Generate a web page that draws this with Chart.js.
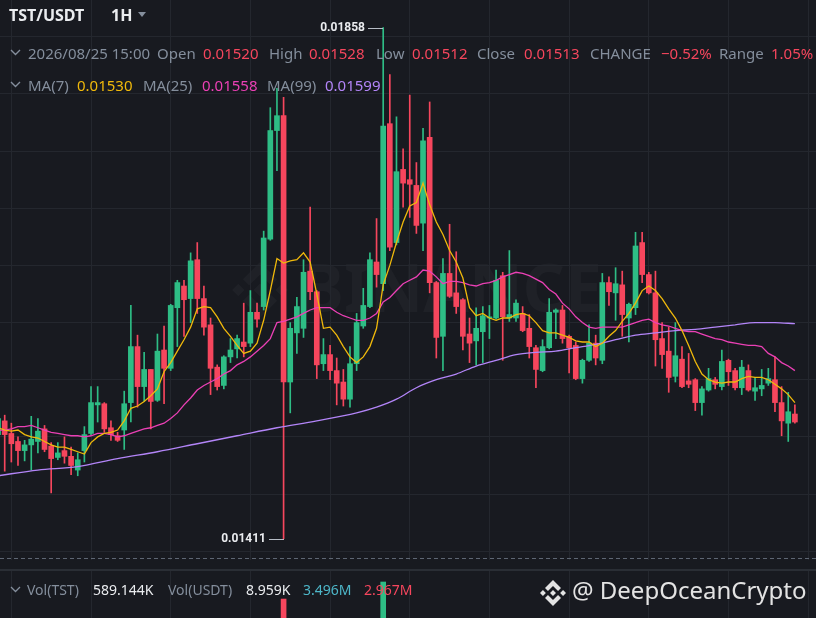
<!DOCTYPE html>
<html>
<head>
<meta charset="utf-8">
<script src="https://cdn.jsdelivr.net/npm/chart.js@4.4.1/dist/chart.umd.min.js"></script>
<style>
  html, body { margin: 0; padding: 0; background: #181a20; overflow: hidden; }
  #wrap { position: relative; width: 816px; height: 618px; overflow: hidden; font-family: "Noto Sans", sans-serif; }
  canvas { position: absolute; left: 0; }
  #main { top: 0; }
  #vol { top: 571px; }
  .t { position: absolute; white-space: nowrap; font-size: 15px; line-height: 20px; color: #848e9c; }
  .v { color: #f6465d; }
  .s { font-size: 14px; line-height: 18px; }
  .w { color: #eaecef; }
  .chev { position: absolute; }
  #sep { position: absolute; left: 0; top: 569px; width: 816px; height: 2px; background: #2a2e35; }
  #wm { position: absolute; left: 300px; top: 253px; font-size: 66px; line-height: 66px; font-weight: 700; color: rgba(255,255,255,0.03); }
  #wmlogo { position: absolute; left: 232px; top: 262px; width: 56px; height: 56px; fill: rgba(255,255,255,0.03); }
</style>
</head>
<body>
<div id="wrap">
  <div id="wm">BINANCE</div>
  <svg id="wmlogo" viewBox="0 0 126.61 126.61"><path d="M38.73 53.2l24.59-24.58 24.6 24.6 14.3-14.31L63.32 0 24.420 38.9l14.31 14.3zM0 63.31l14.3-14.31 14.31 14.31-14.31 14.3zM38.73 73.41l24.59 24.59 24.6-24.6 14.31 14.29-38.9 38.91-38.91-38.88-.02-.02 14.33-14.29zM98 63.31l14.3-14.31 14.31 14.3-14.31 14.32z"/><path d="M77.83 63.3L63.32 48.78 52.59 59.51l-1.24 1.23-2.54 2.54-.02.02.02.02 14.51 14.5 14.51-14.52.01-.01-.01-.01z"/></svg>

  <canvas id="main" width="816" height="560"></canvas>
  <div id="sep"></div>
  <canvas id="vol" width="816" height="110"></canvas>

  <!-- header -->
  <div class="t w" style="left:9px;top:5px;font-size:16px;font-weight:700;">TST/USDT</div>
  <div class="t w" style="left:111px;top:5px;font-size:16px;font-weight:700;">1H</div>
  <svg class="chev" style="left:138px;top:12px" width="8" height="6"><path d="M0 0 L8 0 L4 5 Z" fill="#848e9c"/></svg>

  <svg class="chev" style="left:10px;top:49px" width="11" height="7"><path d="M1 1 L5.5 5.5 L10 1" stroke="#848e9c" stroke-width="1.4" fill="none"/></svg>
  <div class="t" style="left:28px;top:43px">2026/08/25 15:00</div>
  <div class="t" style="left:157px;top:43px">Open</div>
  <div class="t v" style="left:203px;top:43px">0.01520</div>
  <div class="t" style="left:269px;top:43px">High</div>
  <div class="t v" style="left:309px;top:43px">0.01528</div>
  <div class="t" style="left:376px;top:43px">Low</div>
  <div class="t v" style="left:412px;top:43px">0.01512</div>
  <div class="t" style="left:477px;top:43px">Close</div>
  <div class="t v" style="left:524px;top:43px">0.01513</div>
  <div class="t" style="left:590px;top:43px">CHANGE</div>
  <div class="t v" style="left:661px;top:43px">&minus;0.52%</div>
  <div class="t" style="left:719px;top:43px">Range</div>
  <div class="t v" style="left:771px;top:43px">1.05%</div>

  <svg class="chev" style="left:10px;top:81px" width="11" height="7"><path d="M1 1 L5.5 5.5 L10 1" stroke="#848e9c" stroke-width="1.4" fill="none"/></svg>
  <div class="t" style="left:28px;top:75px">MA(7)</div>
  <div class="t" style="left:77px;top:75px;color:#f0b90b">0.01530</div>
  <div class="t" style="left:143px;top:75px">MA(25)</div>
  <div class="t" style="left:202px;top:75px;color:#eb40b5">0.01558</div>
  <div class="t" style="left:267px;top:75px">MA(99)</div>
  <div class="t" style="left:325px;top:75px;color:#b385f8">0.01599</div>

  <!-- volume pane legend -->
  <svg class="chev" style="left:10px;top:586px" width="11" height="7"><path d="M1 1 L5.5 5.5 L10 1" stroke="#848e9c" stroke-width="1.3" fill="none"/></svg>
  <div class="t s" style="left:27px;top:581px">Vol(TST)</div>
  <div class="t s w" style="left:93px;top:581px">589.144K</div>
  <div class="t s" style="left:168px;top:581px">Vol(USDT)</div>
  <div class="t s w" style="left:246px;top:581px">8.959K</div>
  <div class="t s" style="left:303px;top:581px;color:#4db6c8">3.496M</div>
  <div class="t s v" style="left:364px;top:581px">2.967M</div>

  <svg style="position:absolute;left:540px;top:580px;width:26px;height:26px;fill:#e3e3e3" viewBox="0 0 126.61 126.61"><path d="M38.73 53.2l24.59-24.58 24.6 24.6 14.3-14.31L63.32 0 24.42 38.9l14.31 14.3zM0 63.31l14.3-14.31 14.31 14.31-14.31 14.3zM38.73 73.41l24.59 24.59 24.6-24.6 14.31 14.29-38.9 38.91-38.91-38.88-.02-.02 14.33-14.29zM98 63.31l14.3-14.31 14.31 14.3-14.31 14.32z"/><path d="M77.83 63.3L63.32 48.78 52.59 59.51l-1.24 1.23-2.54 2.54-.02.02.02.02 14.51 14.5 14.51-14.52.01-.01-.01-.01z"/></svg>
  <div class="t" style="left:572px;top:578px;font-size:24px;line-height:24px;color:#e3e3e3">@ DeepOceanCrypto</div>
</div>

<script>
// TST/USDT 1H candles, index 0 = first full candle on the left, last one = 2026/08/25 15:00
const candleIdx = [];
for (let i = -1; i <= 119; i++) candleIdx.push(i);

const opens = [
  0.01502, 0.01514, 0.01503, 0.01496, 0.01488, 0.01493, 0.01496, 0.01507, 0.01492, 0.01482,
  0.01488, 0.01483, 0.01471, 0.01488, 0.01503, 0.01528, 0.01529, 0.01508, 0.01501, 0.01506,
  0.01530, 0.01579, 0.01544, 0.01559, 0.01532, 0.01576, 0.01560, 0.01613, 0.01632, 0.01621,
  0.01655, 0.01621, 0.01598, 0.01561, 0.01545, 0.01570, 0.01577, 0.01583, 0.01582, 0.01609,
  0.01614, 0.01673, 0.01768, 0.01781, 0.01548, 0.01591, 0.01595, 0.01645, 0.01627, 0.01564,
  0.01572, 0.01558, 0.01548, 0.01533, 0.01564, 0.01597, 0.01614, 0.01653, 0.01634, 0.01774,
  0.01670, 0.01734, 0.01725, 0.01720, 0.01687, 0.01762, 0.01635, 0.01588, 0.01643, 0.01626,
  0.01620, 0.01590, 0.01584, 0.01592, 0.01604, 0.01604, 0.01641, 0.01604, 0.01604, 0.01608,
  0.01595, 0.01578, 0.01558, 0.01578, 0.01609, 0.01611, 0.01588, 0.01580, 0.01551, 0.01567,
  0.01582, 0.01567, 0.01635, 0.01626, 0.01633, 0.01604, 0.01613, 0.01670, 0.01642, 0.01626,
  0.01586, 0.01575, 0.01553, 0.01568, 0.01549, 0.01550, 0.01530, 0.01541, 0.01550, 0.01544,
  0.01567, 0.01558, 0.01543, 0.01558, 0.01540, 0.01542, 0.01547, 0.01550, 0.01530, 0.01512,
  0.01520
];
const highs = [
  0.01518, 0.01519, 0.01512, 0.01500, 0.01497, 0.01518, 0.01516, 0.01510, 0.01495, 0.01495,
  0.01500, 0.01491, 0.01486, 0.01509, 0.01544, 0.01544, 0.01530, 0.01514, 0.01504, 0.01540,
  0.01615, 0.01589, 0.01574, 0.01559, 0.01590, 0.01597, 0.01616, 0.01637, 0.01637, 0.01661,
  0.01670, 0.01632, 0.01604, 0.01563, 0.01571, 0.01586, 0.01589, 0.01617, 0.01628, 0.01617,
  0.01680, 0.01788, 0.01805, 0.01797, 0.01600, 0.01622, 0.01655, 0.01701, 0.01628, 0.01586,
  0.01580, 0.01569, 0.01559, 0.01579, 0.01608, 0.01630, 0.01661, 0.01691, 0.01858, 0.01817,
  0.01780, 0.01752, 0.01799, 0.01740, 0.01770, 0.01793, 0.01636, 0.01656, 0.01686, 0.01662,
  0.01621, 0.01604, 0.01613, 0.01614, 0.01615, 0.01646, 0.01644, 0.01663, 0.01620, 0.01614,
  0.01607, 0.01580, 0.01585, 0.01621, 0.01612, 0.01615, 0.01589, 0.01583, 0.01568, 0.01598,
  0.01589, 0.01643, 0.01640, 0.01648, 0.01645, 0.01617, 0.01679, 0.01679, 0.01644, 0.01645,
  0.01600, 0.01596, 0.01600, 0.01579, 0.01573, 0.01551, 0.01544, 0.01560, 0.01552, 0.01576,
  0.01568, 0.01560, 0.01567, 0.01563, 0.01552, 0.01559, 0.01560, 0.01570, 0.01544, 0.01539,
  0.01528
];
const lows = [
  0.01501, 0.01470, 0.01478, 0.01475, 0.01479, 0.01471, 0.01486, 0.01487, 0.01451, 0.01480,
  0.01477, 0.01467, 0.01466, 0.01478, 0.01502, 0.01513, 0.01504, 0.01497, 0.01496, 0.01489,
  0.01513, 0.01526, 0.01531, 0.01507, 0.01531, 0.01529, 0.01558, 0.01579, 0.01588, 0.01600,
  0.01608, 0.01589, 0.01537, 0.01541, 0.01542, 0.01565, 0.01569, 0.01570, 0.01579, 0.01596,
  0.01611, 0.01672, 0.01733, 0.01411, 0.01521, 0.01573, 0.01587, 0.01620, 0.01551, 0.01558,
  0.01550, 0.01528, 0.01527, 0.01526, 0.01558, 0.01595, 0.01613, 0.01631, 0.01628, 0.01663,
  0.01668, 0.01701, 0.01692, 0.01678, 0.01663, 0.01626, 0.01569, 0.01558, 0.01622, 0.01608,
  0.01576, 0.01565, 0.01563, 0.01565, 0.01586, 0.01603, 0.01567, 0.01601, 0.01601, 0.01592,
  0.01569, 0.01543, 0.01557, 0.01577, 0.01586, 0.01582, 0.01556, 0.01550, 0.01547, 0.01566,
  0.01563, 0.01564, 0.01615, 0.01602, 0.01588, 0.01583, 0.01607, 0.01635, 0.01625, 0.01562,
  0.01560, 0.01539, 0.01548, 0.01543, 0.01543, 0.01523, 0.01519, 0.01540, 0.01542, 0.01541,
  0.01545, 0.01541, 0.01537, 0.01540, 0.01532, 0.01536, 0.01545, 0.01522, 0.01501, 0.01496,
  0.01512
];
const closes = [
  0.01516, 0.01502, 0.01494, 0.01488, 0.01493, 0.01498, 0.01505, 0.01489, 0.01481, 0.01486,
  0.01483, 0.01475, 0.01480, 0.01502, 0.01530, 0.01530, 0.01507, 0.01502, 0.01497, 0.01529,
  0.01579, 0.01544, 0.01559, 0.01531, 0.01575, 0.01560, 0.01615, 0.01635, 0.01620, 0.01654,
  0.01621, 0.01596, 0.01560, 0.01544, 0.01570, 0.01576, 0.01586, 0.01579, 0.01609, 0.01603,
  0.01674, 0.01768, 0.01781, 0.01548, 0.01595, 0.01614, 0.01644, 0.01627, 0.01563, 0.01572,
  0.01558, 0.01547, 0.01533, 0.01564, 0.01600, 0.01615, 0.01655, 0.01642, 0.01772, 0.01666,
  0.01732, 0.01722, 0.01721, 0.01685, 0.01759, 0.01635, 0.01587, 0.01643, 0.01623, 0.01614,
  0.01588, 0.01582, 0.01595, 0.01606, 0.01605, 0.01637, 0.01605, 0.01607, 0.01617, 0.01593,
  0.01579, 0.01559, 0.01579, 0.01609, 0.01611, 0.01586, 0.01578, 0.01551, 0.01567, 0.01582,
  0.01569, 0.01635, 0.01627, 0.01634, 0.01607, 0.01616, 0.01667, 0.01642, 0.01626, 0.01585,
  0.01572, 0.01552, 0.01571, 0.01544, 0.01546, 0.01530, 0.01542, 0.01551, 0.01546, 0.01566,
  0.01557, 0.01543, 0.01561, 0.01541, 0.01543, 0.01545, 0.01551, 0.01530, 0.01514, 0.01522,
  0.01513
];

// moving averages as shown on the chart
const ma7 = [
  0.01508, 0.01506, 0.01505, 0.01506, 0.01502, 0.01500, 0.01499, 0.01496, 0.01493, 0.01491,
  0.01491, 0.01489, 0.01487, 0.01485, 0.01495, 0.01500, 0.01503, 0.01504, 0.01506, 0.01514,
  0.01525, 0.01527, 0.01531, 0.01536, 0.01542, 0.01557, 0.01565, 0.01575, 0.01585, 0.01596,
  0.01612, 0.01614, 0.01613, 0.01605, 0.01595, 0.01588, 0.01580, 0.01573, 0.01575, 0.01582,
  0.01602, 0.01628, 0.01656, 0.01652, 0.01654, 0.01655, 0.01661, 0.01653, 0.01625, 0.01595,
  0.01596, 0.01589, 0.01579, 0.01570, 0.01565, 0.01570, 0.01579, 0.01595, 0.01633, 0.01650,
  0.01670, 0.01688, 0.01702, 0.01705, 0.01722, 0.01703, 0.01688, 0.01677, 0.01663, 0.01653,
  0.01639, 0.01613, 0.01606, 0.01608, 0.01604, 0.01602, 0.01604, 0.01604, 0.01607, 0.01608,
  0.01606, 0.01600, 0.01593, 0.01591, 0.01591, 0.01589, 0.01587, 0.01584, 0.01583, 0.01583,
  0.01579, 0.01582, 0.01588, 0.01593, 0.01601, 0.01608, 0.01617, 0.01628, 0.01632, 0.01628,
  0.01621, 0.01612, 0.01604, 0.01593, 0.01580, 0.01566, 0.01555, 0.01550, 0.01548, 0.01547,
  0.01548, 0.01548, 0.01551, 0.01553, 0.01552, 0.01552, 0.01550, 0.01546, 0.01542, 0.01537,
  0.01530
];
const ma25 = [
  0.01506, 0.01506, 0.01507, 0.01509, 0.01509, 0.01510, 0.01508, 0.01506, 0.01504, 0.01503,
  0.01502, 0.01501, 0.01501, 0.01500, 0.01501, 0.01503, 0.01503, 0.01502, 0.01500, 0.01501,
  0.01503, 0.01505, 0.01507, 0.01508, 0.01510, 0.01512, 0.01516, 0.01521, 0.01528, 0.01534,
  0.01541, 0.01545, 0.01548, 0.01551, 0.01555, 0.01558, 0.01563, 0.01566, 0.01570, 0.01575,
  0.01580, 0.01586, 0.01600, 0.01601, 0.01603, 0.01605, 0.01608, 0.01611, 0.01613, 0.01613,
  0.01613, 0.01609, 0.01606, 0.01604, 0.01602, 0.01602, 0.01604, 0.01608, 0.01618, 0.01622,
  0.01628, 0.01634, 0.01637, 0.01640, 0.01646, 0.01645, 0.01640, 0.01634, 0.01636, 0.01636,
  0.01635, 0.01633, 0.01632, 0.01634, 0.01635, 0.01637, 0.01640, 0.01642, 0.01644, 0.01643,
  0.01641, 0.01638, 0.01635, 0.01629, 0.01625, 0.01617, 0.01612, 0.01605, 0.01600, 0.01596,
  0.01595, 0.01596, 0.01596, 0.01596, 0.01596, 0.01598, 0.01600, 0.01602, 0.01603, 0.01600,
  0.01598, 0.01597, 0.01595, 0.01593, 0.01592, 0.01592, 0.01590, 0.01588, 0.01586, 0.01585,
  0.01583, 0.01582, 0.01581, 0.01580, 0.01580, 0.01579, 0.01573, 0.01570, 0.01565, 0.01562,
  0.01558
];
// MA(99) is smooth, read at every few candles
const ma99Idx = [-1, 5, 11, 17, 23, 29, 35, 41, 47, 53, 56, 59, 62, 65, 68, 71, 74, 77, 80, 83, 86, 89, 92, 95, 98, 101, 104, 107, 110, 113, 116, 119];
const ma99 = [
  0.01466, 0.01471, 0.01474, 0.01481, 0.01487, 0.01494, 0.01501, 0.01508, 0.01514, 0.01521,
  0.01526, 0.01533, 0.01543, 0.01550, 0.01555, 0.01562, 0.01567, 0.01572, 0.01574, 0.01575,
  0.01578, 0.01581, 0.01585, 0.01589, 0.01591, 0.01593, 0.01594, 0.01596, 0.01598, 0.01600,
  0.01600, 0.01599
];

// volume pane is cropped: only the two spikes reach into view (millions of TST, estimated)
const volIdx = [42, 57];
const volumes = [29.8, 36.0];

// grid positions
const gridIdx = [1, 13, 25, 37, 49, 61, 73, 85, 97, 109, 121];
const gridPrices = [0.014, 0.0145, 0.015, 0.0155, 0.016, 0.0165, 0.017, 0.0175, 0.018, 0.0185];

const GREEN = '#2ebd85';
const RED = '#f6465d';
const GRID = '#24272e';
const X_MIN = -0.708, X_MAX = 122.18;

const candleColors = opens.map((o, i) => closes[i] >= o ? GREEN : RED);

const xAxis = {
  type: 'linear', min: X_MIN, max: X_MAX, offset: false,
  grid: { color: GRID, drawTicks: false, offset: false },
  border: { display: false },
  ticks: { display: false },
  afterBuildTicks: (ax) => { ax.ticks = gridIdx.map(v => ({ value: v })); }
};

// max / min price markers + dashed pane bottom
const hiLoLabels = {
  id: 'hiLoLabels',
  afterDatasetsDraw(chart) {
    const { ctx, scales: { x, y } } = chart;
    const hiI = highs.indexOf(Math.max(...highs));
    const loI = lows.indexOf(Math.min(...lows));
    ctx.save();
    ctx.font = 'bold 12px Roboto';
    ctx.textBaseline = 'middle';
    ctx.textAlign = 'right';
    [[hiI, highs[hiI]], [loI, lows[loI]]].forEach(([i, v]) => {
      const px = Math.round(x.getPixelForValue(candleIdx[i]));
      const py = Math.round(y.getPixelForValue(v)) + 0.5;
      ctx.strokeStyle = '#b7bdc6';
      ctx.lineWidth = 1;
      ctx.beginPath();
      ctx.moveTo(px - 15, py);
      ctx.lineTo(px, py);
      ctx.stroke();
      ctx.fillStyle = '#eaecef';
      ctx.fillText(v.toFixed(5), px - 18, py - 1);
    });
    ctx.strokeStyle = '#5e6673';
    ctx.setLineDash([4, 3]);
    ctx.beginPath();
    ctx.moveTo(0, chart.height - 1.5);
    ctx.lineTo(chart.width, chart.height - 1.5);
    ctx.stroke();
    ctx.restore();
  }
};

new Chart(document.getElementById('main').getContext('2d'), {
  type: 'bar',
  data: {
    datasets: [
      {
        type: 'line', label: 'MA(7)', order: 0,
        data: candleIdx.map((x, i) => ({ x: x, y: ma7[i] })),
        borderColor: '#f0b90b', borderWidth: 1.3, pointRadius: 0, tension: 0
      },
      {
        type: 'line', label: 'MA(25)', order: 0,
        data: candleIdx.map((x, i) => ({ x: x, y: ma25[i] })),
        borderColor: '#eb40b5', borderWidth: 1.3, pointRadius: 0, tension: 0
      },
      {
        type: 'line', label: 'MA(99)', order: 0,
        data: ma99Idx.map((x, i) => ({ x: x, y: ma99[i] })),
        borderColor: '#b385f8', borderWidth: 1.3, pointRadius: 0, cubicInterpolationMode: 'monotone'
      },
      {
        label: 'body', order: 1, grouped: false,
        data: candleIdx.map((x, i) => ({ x: x, y: [opens[i], closes[i]] })),
        backgroundColor: candleColors, barThickness: 5, minBarLength: 1, borderWidth: 0
      },
      {
        label: 'wick', order: 2, grouped: false,
        data: candleIdx.map((x, i) => ({ x: x, y: [lows[i], highs[i]] })),
        backgroundColor: candleColors, barThickness: 1, borderWidth: 0
      }
    ]
  },
  options: {
    responsive: false,
    animation: false,
    layout: { padding: 0 },
    plugins: { legend: { display: false }, tooltip: { enabled: false } },
    scales: {
      x: xAxis,
      y: {
        position: 'right', min: 0.013923, max: 0.018822,
        grid: { color: GRID, drawTicks: false },
        border: { display: false },
        ticks: { display: false },
        afterBuildTicks: (ax) => { ax.ticks = gridPrices.map(v => ({ value: v })); }
      }
    }
  },
  plugins: [hiLoLabels]
});

new Chart(document.getElementById('vol').getContext('2d'), {
  type: 'bar',
  data: {
    datasets: [{
      data: volIdx.map((x, i) => ({ x: x, y: volumes[i] })),
      backgroundColor: volIdx.map(i => candleColors[candleIdx.indexOf(i)]),
      barThickness: 5, borderWidth: 0
    }]
  },
  options: {
    responsive: false,
    animation: false,
    layout: { padding: 0 },
    plugins: { legend: { display: false }, tooltip: { enabled: false } },
    scales: {
      x: xAxis,
      y: { min: 0, max: 40, display: false }
    }
  }
});
</script>
</body>
</html>
